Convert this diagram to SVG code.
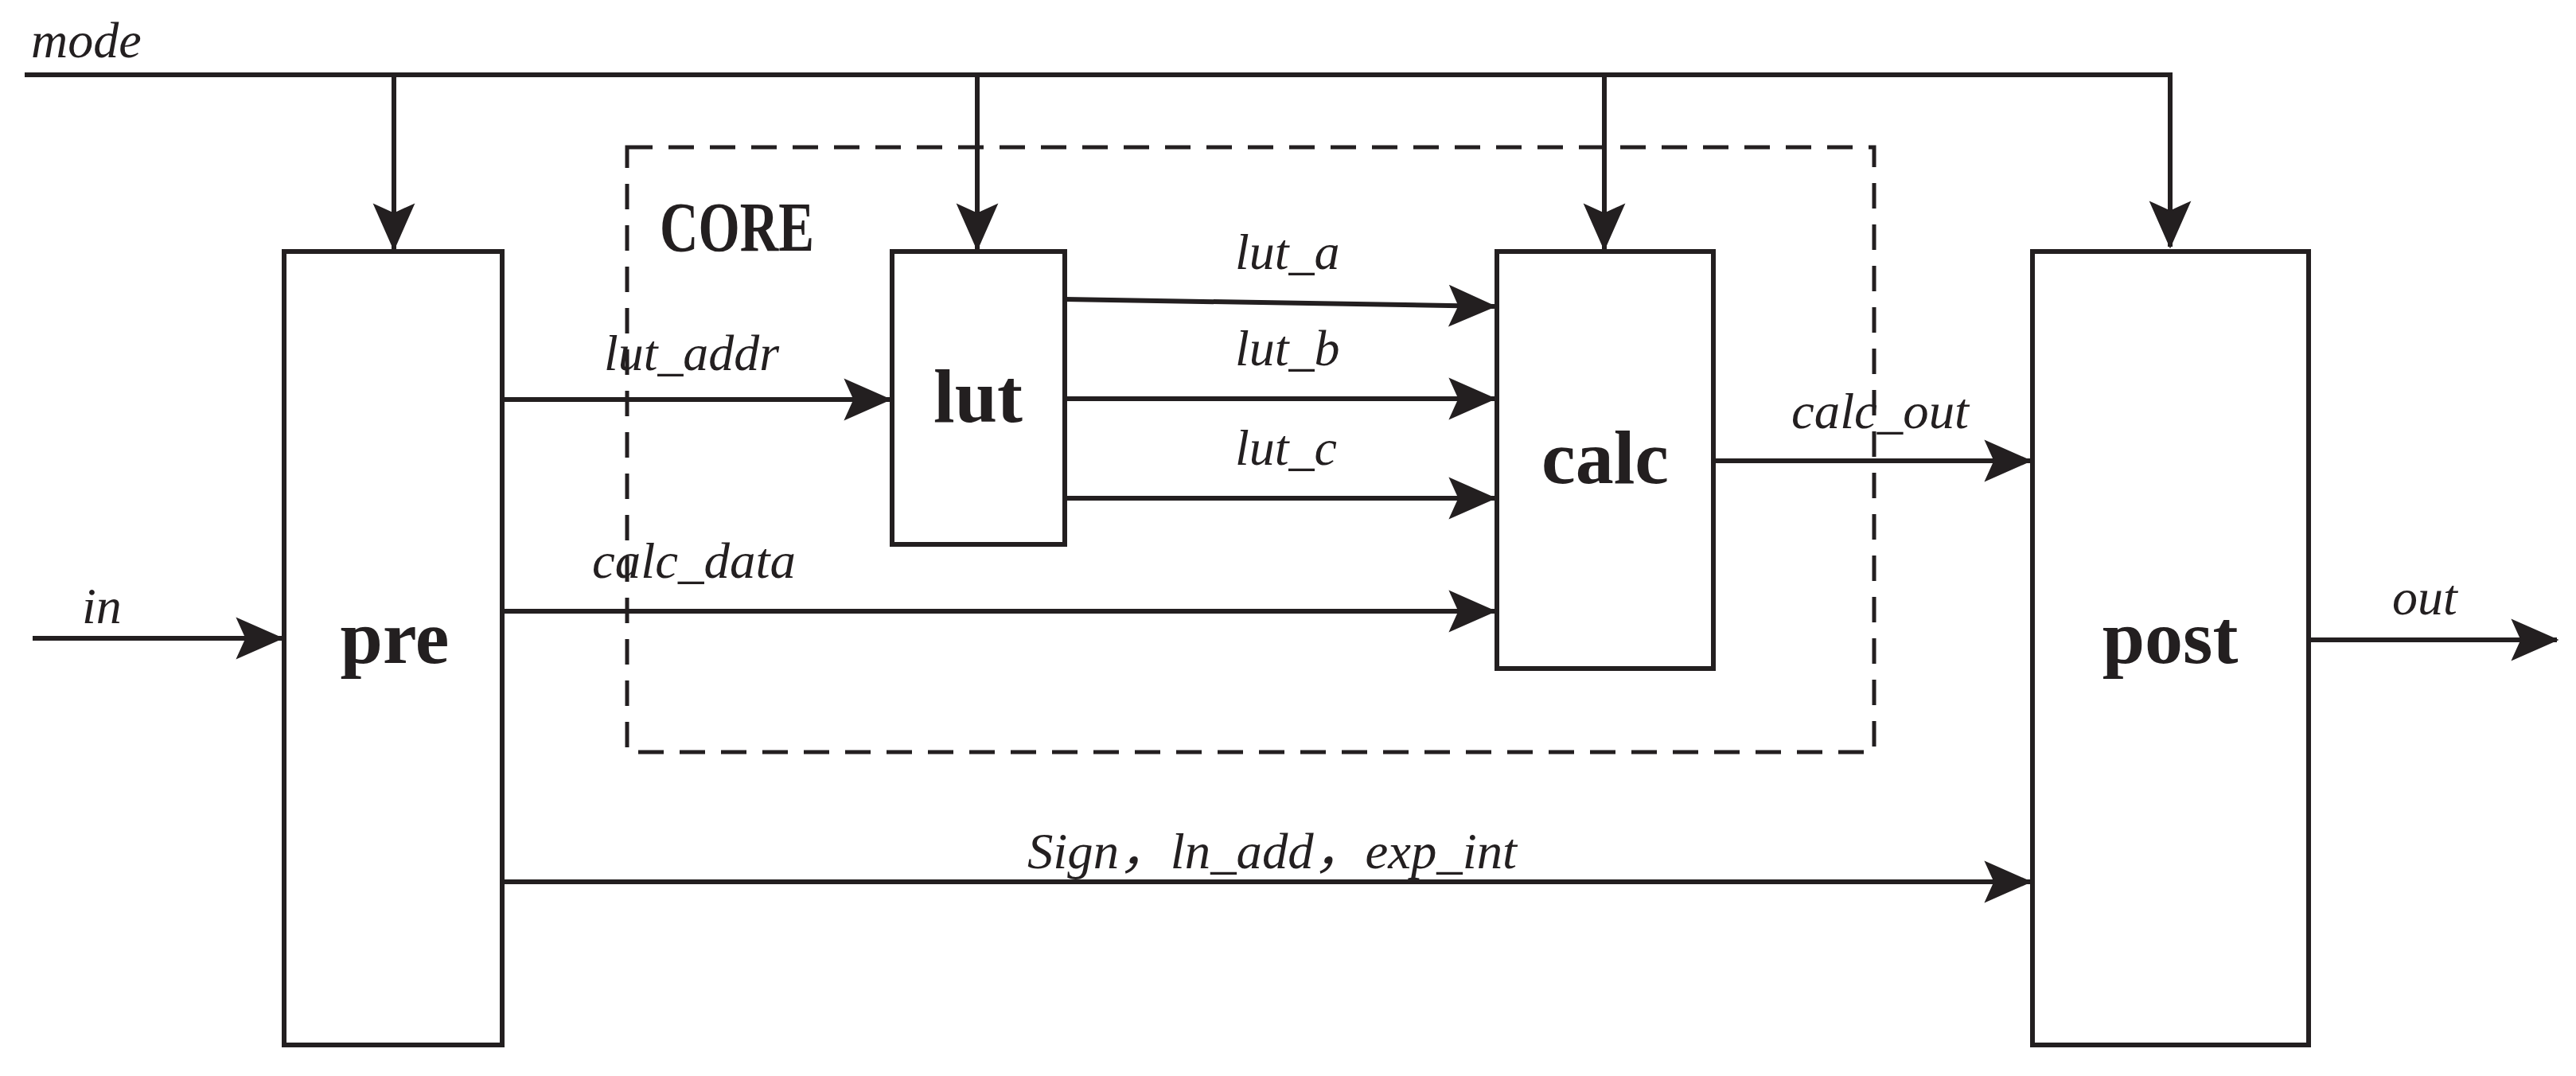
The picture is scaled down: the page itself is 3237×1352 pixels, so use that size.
<svg xmlns="http://www.w3.org/2000/svg" width="3237" height="1352" viewBox="0 0 3237 1352">
<style>
.box{fill:#fff;stroke:#231f20;stroke-width:6}
.ln{fill:none;stroke:#231f20;stroke-width:6}
.dash{fill:none;stroke:#231f20;stroke-width:5;stroke-dasharray:32 20}
.lbl{font-family:"Liberation Serif","Noto Sans CJK SC",serif;font-style:italic;font-size:64px;fill:#231f20}
.big{font-family:"Liberation Serif",serif;font-weight:bold;font-size:96px;fill:#231f20;text-anchor:middle}
.core{font-family:"Liberation Serif",serif;font-weight:bold;font-size:88px;fill:#231f20}
</style>
<defs>
<marker id="ah" markerUnits="userSpaceOnUse" markerWidth="60" markerHeight="60" viewBox="0 0 50 44" refX="48" refY="22" orient="auto">
<path d="M0,0 L50,22 L0,44 L10,22 Z" fill="#231f20"/>
</marker>
</defs>
<rect width="3237" height="1352" fill="#fff"/>
<g id="core">
<rect class="dash" x="788" y="185" width="1567" height="760"/>
<text class="core" x="829" y="315" textLength="194" lengthAdjust="spacingAndGlyphs">CORE</text>
</g>
<g id="connectors">
<polyline class="ln" points="31,94 2727,94 2727,310" marker-end="url(#ah)"/>
<line class="ln" x1="495" y1="94" x2="495" y2="313" marker-end="url(#ah)"/>
<line class="ln" x1="1228" y1="94" x2="1228" y2="313" marker-end="url(#ah)"/>
<line class="ln" x1="2016" y1="94" x2="2016" y2="313" marker-end="url(#ah)"/>
<line class="ln" x1="41" y1="802" x2="354" y2="802" marker-end="url(#ah)"/>
<line class="ln" x1="631" y1="502" x2="1118" y2="502" marker-end="url(#ah)"/>
<line class="ln" x1="631" y1="768" x2="1878" y2="768" marker-end="url(#ah)"/>
<line class="ln" x1="1338" y1="376" x2="1878" y2="385" marker-end="url(#ah)"/>
<line class="ln" x1="1338" y1="501" x2="1878" y2="501" marker-end="url(#ah)"/>
<line class="ln" x1="1338" y1="626" x2="1878" y2="626" marker-end="url(#ah)"/>
<line class="ln" x1="2153" y1="579" x2="2551" y2="579" marker-end="url(#ah)"/>
<line class="ln" x1="631" y1="1108" x2="2551" y2="1108" marker-end="url(#ah)"/>
<line class="ln" x1="2901" y1="804" x2="3213" y2="804" marker-end="url(#ah)"/>
<text class="lbl" x="39" y="72">mode</text>
<text class="lbl" x="103" y="783">in</text>
<text class="lbl" x="759" y="465" textLength="220" lengthAdjust="spacingAndGlyphs">lut_addr</text>
<text class="lbl" x="744" y="726" textLength="256" lengthAdjust="spacingAndGlyphs">calc_data</text>
<text class="lbl" x="1552" y="338">lut_a</text>
<text class="lbl" x="1552" y="459">lut_b</text>
<text class="lbl" x="1552" y="584">lut_c</text>
<text class="lbl" x="2251" y="538" textLength="223" lengthAdjust="spacingAndGlyphs">calc_out</text>
<text class="lbl" x="3006" y="772">out</text>
<text class="lbl" x="1291" y="1091" textLength="615" lengthAdjust="spacingAndGlyphs">Sign，ln_add，exp_int</text>
</g>
<g id="pre"><rect class="box" x="357" y="316" width="274" height="997"/><text class="big" x="496" y="833">pre</text></g>
<g id="lut"><rect class="box" x="1121" y="316" width="217" height="368"/><text class="big" x="1229" y="530">lut</text></g>
<g id="calc"><rect class="box" x="1881" y="316" width="272" height="524"/><text class="big" x="2017" y="607">calc</text></g>
<g id="post"><rect class="box" x="2554" y="316" width="347" height="997"/><text class="big" x="2727" y="833">post</text></g>
</svg>
